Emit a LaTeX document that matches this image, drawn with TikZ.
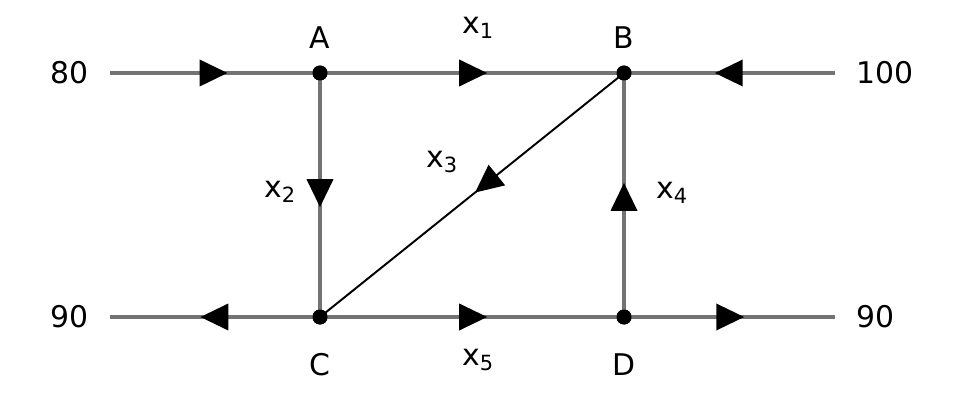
\documentclass[tikz,border=0pt]{standalone}
\usepackage{fontspec}
\setmainfont{DejaVu Sans}
\usetikzlibrary{arrows.meta,decorations.markings}
\begin{document}
\begin{tikzpicture}[x=0.02cm,y=-0.02cm,
  edge/.style={draw=gray!90!black,line width=2.1pt},
  diag/.style={draw=black,line width=1.1pt},
  tip/.style={postaction={decorate},decoration={markings,mark=at position #1 with {\arrow[black]{Triangle[length=0.56cm,width=0.52cm]}}}},
  dot/.style={circle,fill=black,inner sep=0pt,minimum size=0.3cm},
  lbl/.style={font=\fontsize{17}{20}\selectfont}]
\useasboundingbox (0,0) rectangle (970,402);
\node[dot] (A) at (320,73) {};
\node[dot] (B) at (624,73) {};
\node[dot] (C) at (320,317) {};
\node[dot] (D) at (624,317) {};
\coordinate (L1) at (110,73);
\coordinate (R1) at (835,73);
\coordinate (L2) at (110,317);
\coordinate (R2) at (835,317);
\draw[edge,tip=0.56] (L1) -- (A.center);
\draw[edge,tip=0.55] (A.center) -- (B.center);
\draw[edge,tip=0.57] (R1) -- (B.center);
\draw[edge,tip=0.55] (A.center) -- (C.center);
\draw[edge,tip=0.55] (D.center) -- (B.center);
\draw[edge,tip=0.57] (C.center) -- (L2);
\draw[edge,tip=0.55] (C.center) -- (D.center);
\draw[edge,tip=0.57] (D.center) -- (R2);
\draw[diag,tip=0.49] (B.center) -- (C.center);
\node[dot] at (A) {};\node[dot] at (B) {};\node[dot] at (C) {};\node[dot] at (D) {};
\node[lbl] (n80) at (70,73) {80};
\node[lbl] (n100) at (885,73) {100};
\node[lbl] (n90a) at (70,317) {90};
\node[lbl] (n90b) at (875,317) {90};
\node[lbl] (lA) at (320,38) {A};
\node[lbl] (lB) at (624,38) {B};
\node[lbl] (lC) at (320,365) {C};
\node[lbl] (lD) at (624,365) {D};
\node[lbl] (x1) at (478,28) {x\textsubscript{1}};
\node[lbl] (x2) at (280,192) {x\textsubscript{2}};
\node[lbl] (x3) at (442,162) {x\textsubscript{3}};
\node[lbl] (x4) at (672,193) {x\textsubscript{4}};
\node[lbl] (x5) at (478,360) {x\textsubscript{5}};
\end{tikzpicture}
\end{document}
